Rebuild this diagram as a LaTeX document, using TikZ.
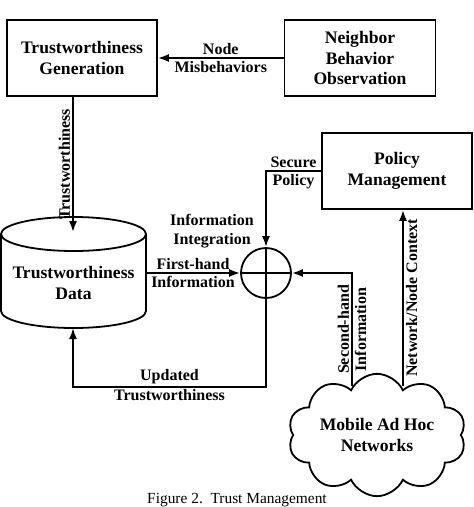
\documentclass[tikz,border=0pt]{standalone}
\usepackage{fontspec}
\setmainfont{Liberation Serif}
\usetikzlibrary{arrows.meta,shapes.symbols}

\begin{document}
\begin{tikzpicture}[x=1pt, y=-1pt,
    box/.style={draw, line width=1.8pt, minimum width=150pt, minimum height=76pt,
      align=center, inner sep=0pt, font=\fontsize{17.6}{20.5}\selectfont\bfseries},
    lbl/.style={align=center, inner sep=2pt, font=\fontsize{16}{19}\selectfont\bfseries},
    flow/.style={line width=1.8pt, -{Latex[length=11pt,width=8pt]}}]

  \useasboundingbox (0,0) rectangle (474,507);

  % Boxes
  \node[box] (gen) at (82,58) {Trustworthiness\\Generation};
  \node[box, minimum width=151pt] (obs) at (360,58) {Neighbor\\Behavior\\Observation};
  \node[box] (pol) at (397,171) {Policy\\Management};

  % Database cylinder
  \draw[line width=1.8pt] (1,234) -- (1,311)
    arc[start angle=180, end angle=360, x radius=72.5pt, y radius=17pt] -- (146,234);
  \draw[line width=1.8pt] (73.5,234) ellipse[x radius=72.5pt, y radius=17pt];
  \node[box, draw=none, minimum width=0pt, minimum height=0pt] (data) at (73.5,283) {Trustworthiness\\Data};
  \coordinate (datatop) at (73,232);
  \coordinate (databot) at (73,328);
  \coordinate (dataside) at (146,273);

  % Integration
  \node[draw, circle, line width=1.8pt, minimum size=50pt, inner sep=0pt] (sum) at (266,273) {};
  \draw[line width=1.8pt] (sum.north) -- (sum.south) (sum.west) -- (sum.east);
  \node[lbl] (integ) at (212,231) {Information\\Integration};

  % Network cloud
  \node[cloud, draw, line width=1.8pt, cloud puffs=10, cloud puff arc=130, aspect=1.7,
    shape border rotate=18, minimum width=178pt, minimum height=106pt, inner sep=0pt, align=center,
    font=\fontsize{17.6}{20.5}\selectfont\bfseries] (manet) at (377,435) {Mobile Ad Hoc\\Networks};
  \coordinate (secfoot) at (352,386);
  \coordinate (ctxfoot) at (403,386);

  % Connectors
  \draw[flow] (obs.west) -- node[lbl, above] {Node} node[lbl, below] {Misbehaviors} (gen.east);
  \draw[flow] (gen.south -| datatop) -- node[lbl, rotate=90, anchor=south] {Trustworthiness} (datatop);
  \draw[flow] (dataside) -- node[lbl, above] {First-hand} node[lbl, below] {Information} (sum.west);
  \draw[flow] (pol.west) -- node[lbl, above] {Secure} node[lbl, below] {Policy} (pol.west -| sum.north) -- (sum.north);
  \draw[flow] (secfoot) |- node[lbl, pos=0.25, rotate=90, anchor=south] {Second-hand}
    node[lbl, pos=0.25, rotate=90, anchor=north] {Information} (sum.east);
  \draw[flow] (ctxfoot) -- node[lbl, rotate=90, anchor=north] {Network/Node Context} (ctxfoot |- pol.south);
  \draw[flow] (sum.south) -- ++(0,88) -| node[lbl, pos=0.25, above] {Updated}
    node[lbl, pos=0.25, below] {Trustworthiness} (databot);

  % Caption
  \node[font=\fontsize{15.4}{18}\selectfont] (cap) at (237,500) {Figure 2.\ \ Trust Management};

\end{tikzpicture}
\end{document}
